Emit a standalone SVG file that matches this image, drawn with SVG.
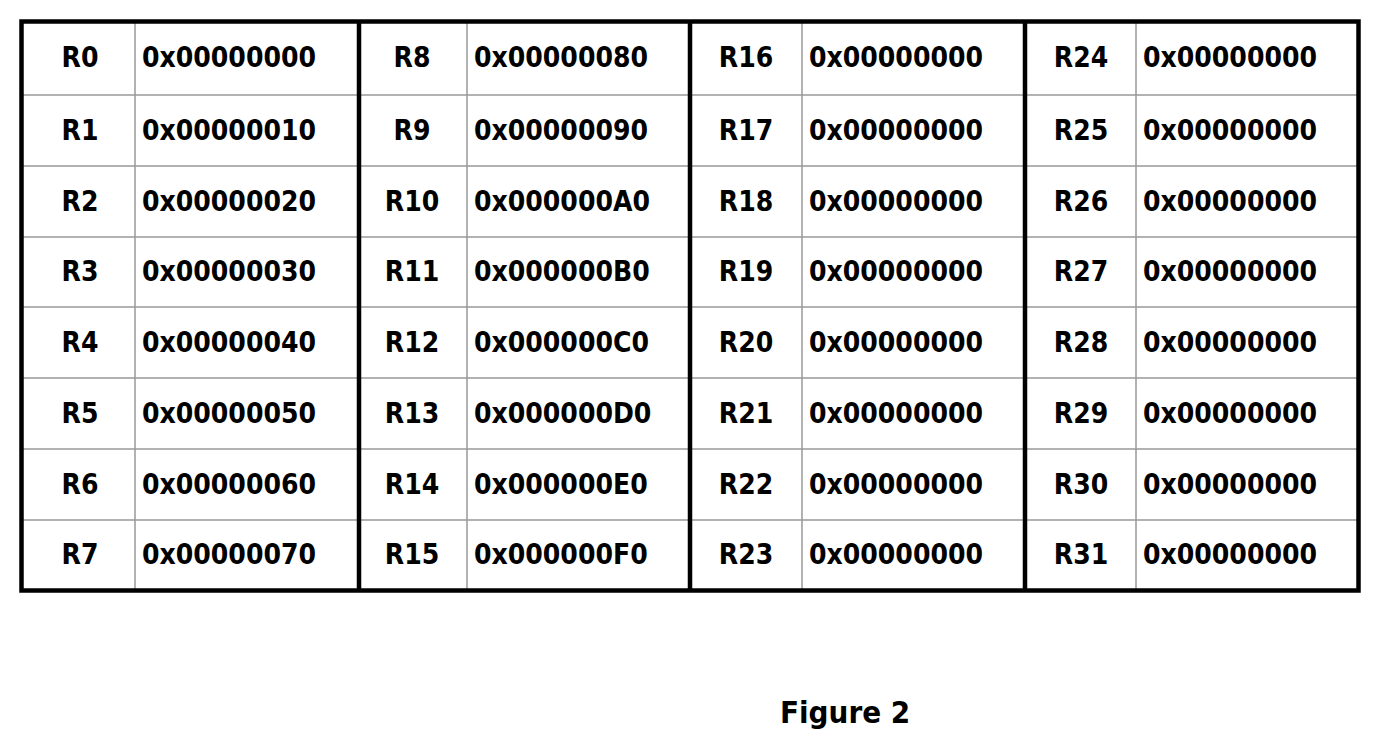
<svg xmlns="http://www.w3.org/2000/svg" width="1376" height="744" viewBox="0 0 1376 744">
<style>
text{font-family:"DejaVu Sans Condensed","DejaVu Sans",sans-serif;font-weight:bold;font-size:28px;fill:#000}
.l{text-anchor:middle}
.thin{stroke:#999;stroke-width:1.5}
.thick{stroke:#000;stroke-width:4.5;fill:none}
</style>
<rect width="1376" height="744" fill="#fff"/>
<g id="grid">
<line class="thin" x1="20" x2="1360" y1="95" y2="95"/>
<line class="thin" x1="20" x2="1360" y1="166" y2="166"/>
<line class="thin" x1="20" x2="1360" y1="237" y2="237"/>
<line class="thin" x1="20" x2="1360" y1="307" y2="307"/>
<line class="thin" x1="20" x2="1360" y1="378" y2="378"/>
<line class="thin" x1="20" x2="1360" y1="449" y2="449"/>
<line class="thin" x1="20" x2="1360" y1="520" y2="520"/>
<line class="thin" x1="135" x2="135" y1="20" y2="591"/>
<line class="thin" x1="467" x2="467" y1="20" y2="591"/>
<line class="thin" x1="802" x2="802" y1="20" y2="591"/>
<line class="thin" x1="1136" x2="1136" y1="20" y2="591"/>
<rect class="thick" x="21.5" y="21.5" width="1337" height="569"/>
<line class="thick" x1="359" x2="359" y1="20" y2="591"/>
<line class="thick" x1="690" x2="690" y1="20" y2="591"/>
<line class="thick" x1="1025" x2="1025" y1="20" y2="591"/>
</g>
<g id="cells">
<text class="l" x="80" y="67">R0</text><text x="142" y="67">0x00000000</text>
<text class="l" x="80" y="140">R1</text><text x="142" y="140">0x00000010</text>
<text class="l" x="80" y="211">R2</text><text x="142" y="211">0x00000020</text>
<text class="l" x="80" y="281">R3</text><text x="142" y="281">0x00000030</text>
<text class="l" x="80" y="352">R4</text><text x="142" y="352">0x00000040</text>
<text class="l" x="80" y="423">R5</text><text x="142" y="423">0x00000050</text>
<text class="l" x="80" y="494">R6</text><text x="142" y="494">0x00000060</text>
<text class="l" x="80" y="564">R7</text><text x="142" y="564">0x00000070</text>
<text class="l" x="412" y="67">R8</text><text x="474" y="67">0x00000080</text>
<text class="l" x="412" y="140">R9</text><text x="474" y="140">0x00000090</text>
<text class="l" x="412" y="211">R10</text><text x="474" y="211">0x000000A0</text>
<text class="l" x="412" y="281">R11</text><text x="474" y="281">0x000000B0</text>
<text class="l" x="412" y="352">R12</text><text x="474" y="352">0x000000C0</text>
<text class="l" x="412" y="423">R13</text><text x="474" y="423">0x000000D0</text>
<text class="l" x="412" y="494">R14</text><text x="474" y="494">0x000000E0</text>
<text class="l" x="412" y="564">R15</text><text x="474" y="564">0x000000F0</text>
<text class="l" x="746" y="67">R16</text><text x="809" y="67">0x00000000</text>
<text class="l" x="746" y="140">R17</text><text x="809" y="140">0x00000000</text>
<text class="l" x="746" y="211">R18</text><text x="809" y="211">0x00000000</text>
<text class="l" x="746" y="281">R19</text><text x="809" y="281">0x00000000</text>
<text class="l" x="746" y="352">R20</text><text x="809" y="352">0x00000000</text>
<text class="l" x="746" y="423">R21</text><text x="809" y="423">0x00000000</text>
<text class="l" x="746" y="494">R22</text><text x="809" y="494">0x00000000</text>
<text class="l" x="746" y="564">R23</text><text x="809" y="564">0x00000000</text>
<text class="l" x="1081" y="67">R24</text><text x="1143" y="67">0x00000000</text>
<text class="l" x="1081" y="140">R25</text><text x="1143" y="140">0x00000000</text>
<text class="l" x="1081" y="211">R26</text><text x="1143" y="211">0x00000000</text>
<text class="l" x="1081" y="281">R27</text><text x="1143" y="281">0x00000000</text>
<text class="l" x="1081" y="352">R28</text><text x="1143" y="352">0x00000000</text>
<text class="l" x="1081" y="423">R29</text><text x="1143" y="423">0x00000000</text>
<text class="l" x="1081" y="494">R30</text><text x="1143" y="494">0x00000000</text>
<text class="l" x="1081" y="564">R31</text><text x="1143" y="564">0x00000000</text>
</g>
<text id="caption" x="780" y="723" style="font-size:31px">Figure 2</text>
</svg>
